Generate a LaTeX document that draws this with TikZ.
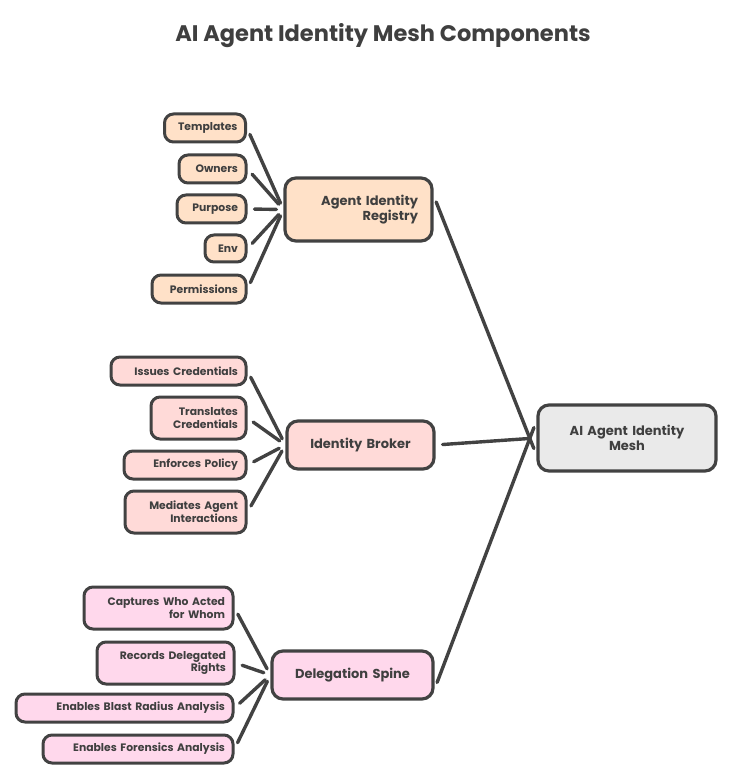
\documentclass[tikz,border=0pt]{standalone}
\usepackage{fontspec}
\setmainfont{Poppins}
\definecolor{edge}{HTML}{424242}
\definecolor{txt}{HTML}{3F3F3F}
\definecolor{peach}{HTML}{FFE1C8}
\definecolor{rosy}{HTML}{FFDAD8}
\definecolor{pinky}{HTML}{FFD8EC}
\definecolor{greyf}{HTML}{EAEAEA}
\tikzset{
  x=1pt,y=-1pt,
  box/.style={draw=edge, line width=3.2pt, rounded corners=11pt, text=txt, align=right, inner ysep=2pt},
  parent/.style={box, font=\fontsize{13}{15}\selectfont\bfseries, inner xsep=14pt},
  leaf/.style={box, line width=3pt, rounded corners=9pt, font=\fontsize{10.8}{12.6}\selectfont\bfseries, inner xsep=8pt},
  conn/.style={draw=edge, line width=3.4pt, line cap=round, shorten >=7pt, shorten <=7pt},
}
\begin{document}
\begin{tikzpicture}
\useasboundingbox (0,0) rectangle (751,775);
\node[font=\fontsize{22.5}{26}\selectfont\bfseries, text=txt] (title) at (383,36) {AI Agent Identity Mesh Components};

% parents
\node[parent, fill=peach, text width=119pt, minimum height=63pt] (reg) at (358.5,209.5) {Agent Identity\\Registry};
\node[parent, fill=rosy, text width=119pt, minimum height=48pt, align=center] (brk) at (360.5,445) {Identity Broker};
\node[parent, fill=pinky, text width=133pt, minimum height=48pt, align=center] (spn) at (352.5,675) {Delegation Spine};
\node[parent, fill=greyf, text width=150pt, minimum height=66pt, align=center] (mesh) at (627,438) {AI Agent Identity\\Mesh};

% registry leaves
\node[leaf, fill=peach, text width=65pt, minimum height=28pt] (tpl) at (205,128) {Templates};
\node[leaf, fill=peach, text width=51pt, minimum height=28pt] (own) at (212.5,169) {Owners};
\node[leaf, fill=peach, text width=53pt, minimum height=28pt] (pur) at (211.5,209) {Purpose};
\node[leaf, fill=peach, text width=25pt, minimum height=27pt] (env) at (225.5,248.5) {Env};
\node[leaf, fill=peach, text width=78pt, minimum height=28pt] (prm) at (199,289) {Permissions};

% broker leaves
\node[leaf, fill=rosy, text width=119pt, minimum height=28pt] (iss) at (178.5,371) {Issues Credentials};
\node[leaf, fill=rosy, text width=79pt, minimum height=42pt] (trn) at (198.5,418) {Translates\\Credentials};
\node[leaf, fill=rosy, text width=106pt, minimum height=28pt] (enf) at (185,465) {Enforces Policy};
\node[leaf, fill=rosy, text width=105pt, minimum height=42pt] (med) at (185.5,512) {Mediates Agent\\Interactions};

% spine leaves
\node[leaf, fill=pinky, text width=133pt, minimum height=42pt] (cap) at (158.5,608) {Captures Who Acted\\for Whom};
\node[leaf, fill=pinky, text width=121pt, minimum height=42pt] (rec) at (165.5,663) {Records Delegated\\Rights};
\node[leaf, fill=pinky, text width=201pt, minimum height=28pt] (bla) at (124.5,708) {Enables Blast Radius Analysis};
\node[leaf, fill=pinky, text width=174pt, minimum height=28pt] (for) at (138,749) {Enables Forensics Analysis};

% connectors
\foreach \c in {tpl,own,pur,env,prm} \draw[conn] (\c.east) -- (reg.west);
\foreach \c in {iss,trn,enf,med} \draw[conn] (\c.east) -- (brk.west);
\foreach \c in {cap,rec,bla,for} \draw[conn] (\c.east) -- (spn.west);
\draw[conn] ([yshift=14pt]reg.east) -- ([yshift=-17pt]mesh.west);
\draw[conn] (brk.east) -- (mesh.west);
\draw[conn] ([yshift=-14pt]spn.east) -- ([yshift=17pt]mesh.west);
\end{tikzpicture}
\end{document}
